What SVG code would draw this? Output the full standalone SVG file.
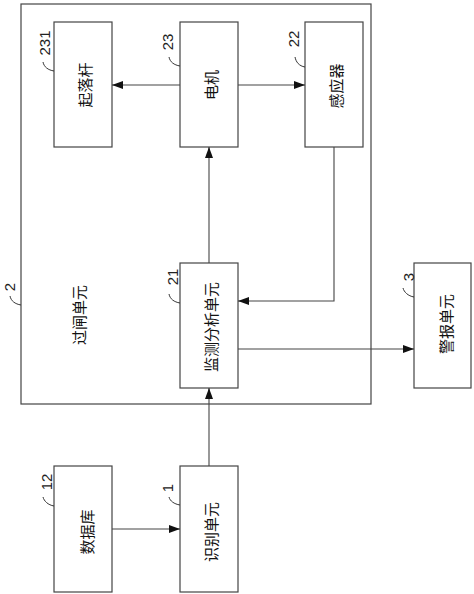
<svg xmlns="http://www.w3.org/2000/svg" width="474" height="594" viewBox="0 0 474 594">
<defs>
<style>
.box{fill:#fff;stroke:#444;stroke-width:1.2}
.frame{fill:none;stroke:#444;stroke-width:1.2}
.ln{fill:none;stroke:#444;stroke-width:1.1}
.ld{fill:none;stroke:#333;stroke-width:1}
.t{font-family:"Noto Sans CJK SC","Liberation Sans",sans-serif;font-size:15px;fill:#111;text-anchor:middle;dominant-baseline:central}
.n{font-family:"Liberation Sans","DejaVu Sans",sans-serif;font-size:15px;fill:#222;text-anchor:middle;dominant-baseline:central}
</style>
<marker id="ah" markerWidth="11" markerHeight="8" refX="11" refY="4" orient="auto" markerUnits="userSpaceOnUse">
<path d="M0,0 L11,4 L0,8 z" fill="#111"/>
</marker>
</defs>
<rect width="474" height="594" fill="#fff"/>
<g id="n2">
<rect class="frame" x="21" y="4" width="350" height="400"/>
<text class="t" transform="translate(78,315) rotate(-90)">过闸单元</text>
<path class="ld" d="M21,305 C15,304 11,301 10,296"/>
<text class="n" transform="translate(9,287) rotate(-90)">2</text>
</g>
<g id="n231">
<rect class="box" x="54" y="22" width="58" height="125"/>
<text class="t" transform="translate(84,85) rotate(-90)">起落杆</text>
<path class="ld" d="M54,71 C48,70 44,67 43,62"/>
<text class="n" transform="translate(44,43) rotate(-90)">231</text>
</g>
<g id="n23">
<rect class="box" x="180" y="22" width="58" height="125"/>
<text class="t" transform="translate(210,85) rotate(-90)">电机</text>
<path class="ld" d="M180,66 C174,65 170,62 169,57"/>
<text class="n" transform="translate(167,42) rotate(-90)">23</text>
</g>
<g id="n22">
<rect class="box" x="305" y="22" width="58" height="125"/>
<text class="t" transform="translate(335,86) rotate(-90)">感应器</text>
<path class="ld" d="M305,67 C299,66 296,62 295,57"/>
<text class="n" transform="translate(293,39) rotate(-90)">22</text>
</g>
<g id="n21">
<rect class="box" x="180" y="263" width="58" height="125"/>
<text class="t" transform="translate(210,327) rotate(-90)">监测分析单元</text>
<path class="ld" d="M180,303 C174,302 170,299 169,294"/>
<text class="n" transform="translate(172,277) rotate(-90)">21</text>
</g>
<g id="n3">
<rect class="box" x="414" y="263" width="57" height="125"/>
<text class="t" transform="translate(445,324) rotate(-90)">警报单元</text>
<path class="ld" d="M414,297 C408,296 404,292 403,288"/>
<text class="n" transform="translate(408,277) rotate(-90)">3</text>
</g>
<g id="n12">
<rect class="box" x="54" y="466" width="58" height="126"/>
<text class="t" transform="translate(86,532) rotate(-90)">数据库</text>
<path class="ld" d="M54,506 C48,505 44,501 43,497"/>
<text class="n" transform="translate(46,482) rotate(-90)">12</text>
</g>
<g id="n1">
<rect class="box" x="180" y="466" width="58" height="126"/>
<text class="t" transform="translate(210,532) rotate(-90)">识别单元</text>
<path class="ld" d="M180,505 C174,504 170,501 169,497"/>
<text class="n" transform="translate(167,488) rotate(-90)">1</text>
</g>
<g id="connectors">
<path class="ln" d="M180,85 L112,85" marker-end="url(#ah)"/>
<path class="ln" d="M238,85 L305,85" marker-end="url(#ah)"/>
<path class="ln" d="M209,263 L209,147" marker-end="url(#ah)"/>
<path class="ln" d="M334,147 L334,301 L238,301" marker-end="url(#ah)"/>
<path class="ln" d="M238,349 L414,349" marker-end="url(#ah)"/>
<path class="ln" d="M209,466 L209,388" marker-end="url(#ah)"/>
<path class="ln" d="M112,529 L180,529" marker-end="url(#ah)"/>
</g>
</svg>
